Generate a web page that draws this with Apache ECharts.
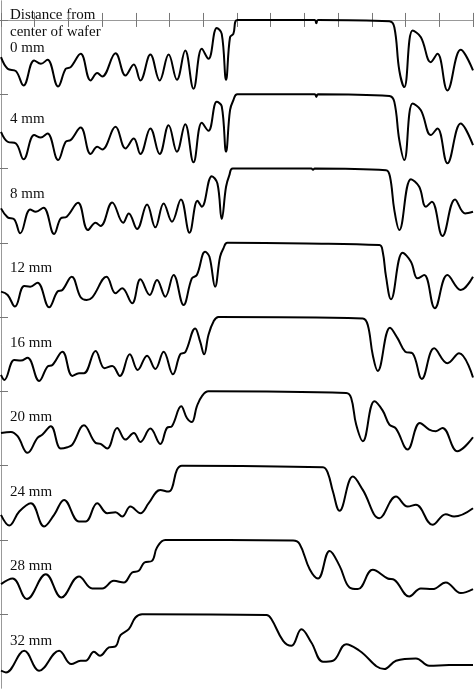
<!DOCTYPE html>
<html>
<head>
<meta charset="utf-8">
<script src="https://cdn.jsdelivr.net/npm/echarts@6/dist/echarts.min.js"></script>
<style>html,body{margin:0;padding:0;background:#fff}#main{width:474px;height:689px}</style>
</head>
<body>
<div id="main"></div>
<script>
// profiles: x position, depth below the plateau (same units)
var labels = ['0 mm', '4 mm', '8 mm', '12 mm', '16 mm', '20 mm', '24 mm', '28 mm', '32 mm'];
var spacing = 223.5;

var p0 = [[0,112],[20,147],[45,154],[68,197],[100,122],[120,132],[140,120],[172,200],[195,147],[210,142],[240,102],[270,182],[290,160],[305,170],[345,100],[375,167],[400,134],[420,182],[450,104],[478,182],[505,104],[530,180],[555,92],[580,207],[605,87],[625,117],[650,24],[665,42],[678,180],[690,52],[700,42],[712,0],[945,0],[950,10],[955,0],[1170,4],[1185,22],[1200,152],[1215,202],[1240,32],[1265,52],[1295,127],[1315,102],[1345,212],[1385,90],[1422,152]];
var p4 = [[0,113],[20,143],[45,148],[68,196],[100,123],[120,130],[140,118],[172,198],[195,143],[210,138],[240,100],[270,180],[290,158],[305,166],[345,98],[375,163],[400,133],[420,180],[450,103],[478,180],[505,93],[530,173],[555,90],[580,205],[605,86],[625,110],[650,23],[665,36],[678,173],[690,48],[700,18],[712,0],[945,0],[950,8],[955,0],[1170,5],[1185,23],[1200,138],[1215,198],[1240,28],[1265,48],[1295,123],[1315,103],[1345,208],[1385,88],[1422,153]];
var p8 = [[0,120],[20,147],[40,153],[58,195],[88,123],[105,130],[128,118],[160,197],[180,150],[198,145],[232,103],[262,185],[285,163],[300,173],[335,102],[368,163],[385,135],[410,182],[440,108],[465,177],[490,105],[515,160],[542,93],[568,193],[592,97],[605,115],[635,23],[652,45],[665,152],[678,55],[688,20],[698,0],[935,0],[940,4],[945,0],[1160,5],[1172,25],[1185,125],[1200,185],[1235,32],[1260,55],[1280,115],[1298,100],[1330,203],[1368,93],[1398,135],[1422,130]];
var p12 = [[0,147],[20,157],[42,192],[70,130],[88,132],[110,120],[145,194],[170,147],[185,142],[213,102],[240,164],[258,172],[275,164],[318,102],[345,152],[365,137],[395,182],[420,110],[448,157],[470,112],[495,162],[520,97],[550,187],[575,107],[590,97],[615,27],[628,42],[645,132],[660,42],[670,17],[682,0],[920,2],[1140,7],[1150,27],[1160,102],[1175,170],[1210,30],[1235,57],[1255,107],[1275,97],[1307,197],[1345,97],[1385,142],[1422,102]];
var p16 = [[0,174],[10,189],[40,129],[60,131],[80,122],[115,192],[140,149],[155,144],[185,104],[215,177],[235,169],[250,169],[285,102],[312,154],[335,147],[358,177],[388,112],[412,159],[440,116],[465,156],[490,104],[518,172],[540,112],[555,106],[585,34],[600,74],[612,112],[625,54],[640,14],[655,0],[1090,4],[1105,24],[1120,114],[1135,162],[1172,32],[1195,64],[1218,104],[1240,109],[1268,186],[1305,94],[1345,139],[1380,109],[1422,182]];
var p20 = [[0,125],[30,122],[50,135],[80,185],[110,140],[125,130],[150,105],[180,172],[200,168],[215,160],[250,102],[285,155],[300,158],[320,172],[350,110],[375,145],[400,125],[420,152],[450,112],[480,158],[500,110],[515,105],[543,45],[560,80],[575,92],[590,45],[605,15],[625,0],[1040,5],[1055,20],[1070,100],[1090,150],[1125,30],[1150,58],[1170,100],[1190,112],[1225,175],[1262,95],[1290,115],[1310,120],[1330,110],[1375,180],[1422,138]];
var p24 = [[0,148],[25,180],[55,138],[90,113],[130,183],[160,148],[190,103],[235,168],[255,168],[290,113],[320,143],[345,140],[365,153],[390,123],[420,143],[445,113],[480,73],[505,78],[515,68],[530,13],[545,0],[970,5],[985,23],[1000,78],[1020,136],[1060,33],[1090,73],[1140,158],[1190,93],[1225,123],[1250,118],[1300,178],[1340,146],[1365,153],[1422,128]];
var p28 = [[0,133],[35,116],[78,178],[135,103],[182,173],[235,110],[275,146],[305,146],[340,123],[370,128],[395,98],[415,93],[432,68],[455,63],[470,23],[495,0],[880,2],[900,13],[930,88],[955,116],[990,33],[1020,78],[1050,143],[1075,148],[1120,90],[1165,116],[1185,120],[1230,170],[1265,146],[1300,148],[1340,128],[1385,160],[1422,148]];
var p32 = [[0,170],[15,175],[70,110],[115,170],[175,110],[212,150],[240,140],[255,140],[280,113],[298,125],[325,100],[345,97],[360,63],[385,45],[405,10],[425,0],[800,2],[815,15],[850,80],[875,95],[905,45],[935,85],[970,143],[1000,140],[1040,90],[1080,110],[1155,165],[1190,140],[1250,133],[1290,155],[1350,153],[1422,153]];
var profiles = [p0, p4, p8, p12, p16, p20, p24, p28, p32];

var chart = echarts.init(document.getElementById('main'));
var levels = labels.map(function (l, k) { return k * spacing; });

var series = profiles.map(function (p, k) {
    return {
        name: labels[k],
        type: 'line',
        smooth: 0.4,
        symbol: 'none',
        data: p.map(function (d) { return [d[0], d[1] + k * spacing]; }),
        lineStyle: {color: '#000', width: 2}
    };
});

var texts = [{type: 'text', left: 10, top: 7,
    style: {text: 'Distance from\ncenter of wafer\n0 mm', font: '15px "Liberation Serif"', fill: '#111', lineHeight: 16.5}}];
for (var k = 1; k < labels.length; k++) {
    texts.push({type: 'text', left: 10, top: 112 + (k - 1) * 74.5,
        style: {text: labels[k], font: '15px "Liberation Serif"', fill: '#111'}});
}

var tickX = {show: true, inside: true, length: 7, lineStyle: {color: '#777'}};
var tickY = {show: true, inside: true, length: 7, lineStyle: {color: '#777'}, customValues: levels};
chart.setOption({
    animation: false,
    grid: {left: 1, right: 1, top: 1, bottom: 1},
    xAxis: [
        {type: 'value', min: 0, max: 1422, interval: 101.57, position: 'bottom',
         axisLine: {lineStyle: {color: '#999'}}, axisTick: tickX, axisLabel: {show: false}, splitLine: {show: false}},
        {type: 'value', min: 0, max: 1422, interval: 101.57, position: 'top',
         axisLine: {lineStyle: {color: '#999'}}, axisTick: tickX, axisLabel: {show: false}, splitLine: {show: false}}
    ],
    yAxis: [
        {type: 'value', inverse: true, min: -57, max: 2010, position: 'left',
         axisLine: {show: true, lineStyle: {color: '#999'}}, axisTick: tickY,
         axisLabel: {show: false}, splitLine: {show: false}},
        {type: 'value', inverse: true, min: -57, max: 2010, position: 'right',
         axisLine: {show: true, lineStyle: {color: '#999'}}, axisTick: tickY,
         axisLabel: {show: false}, splitLine: {show: false}}
    ],
    graphic: texts,
    series: series
});
</script>
</body>
</html>
